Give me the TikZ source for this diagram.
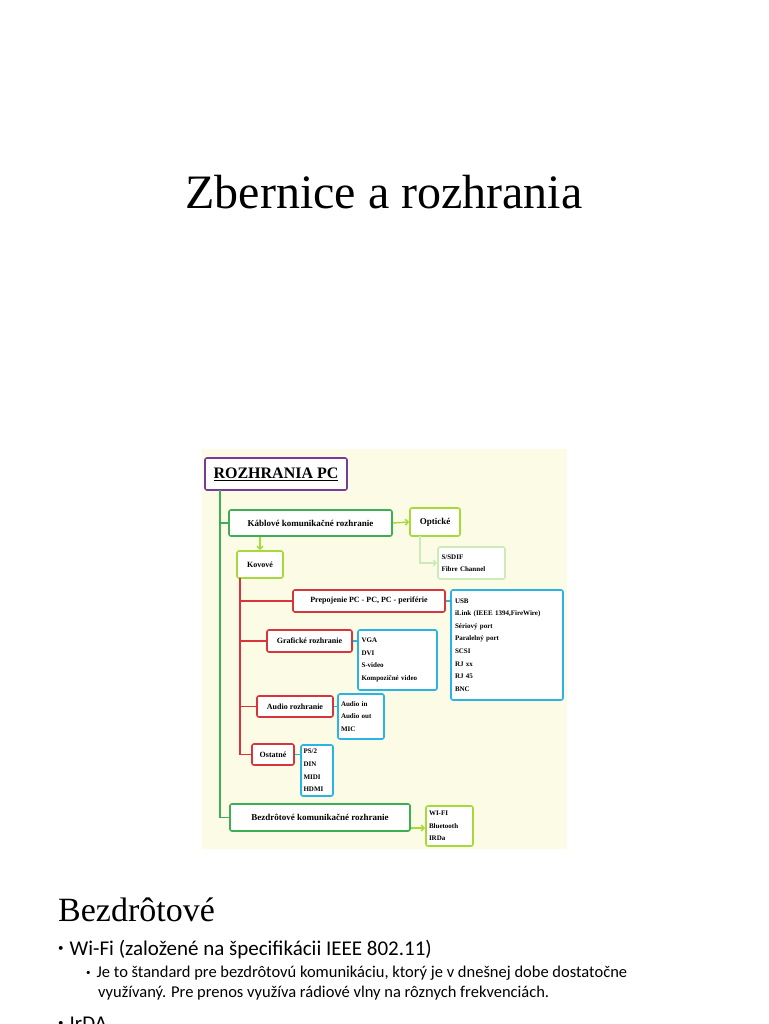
\documentclass[tikz,border=0pt]{standalone}
\usepackage{fontspec}
\setmainfont{Liberation Serif}
\newfontfamily\carlitofont{Carlito}
\usetikzlibrary{arrows.meta}
\definecolor{bg}{HTML}{FCFCE6}
\definecolor{purp}{HTML}{7A3A9A}
\definecolor{grn}{HTML}{3CAE54}
\definecolor{lgrn}{HTML}{A6DA3A}
\definecolor{fgrn}{HTML}{CDEBB8}
\definecolor{rd}{HTML}{D8343C}
\definecolor{bl}{HTML}{2AB4E4}
\tikzset{
 bx/.style={draw,line width=1.6pt,rounded corners=2pt,fill=white,inner sep=0pt,align=left},
 lst/.style={font=\bfseries\fontsize{7}{12.6}\selectfont},
 arr/.style={-{Straight Barb[length=3pt,width=6pt]},line width=1.4pt},
}
\begin{document}
\begin{tikzpicture}[x=1pt,y=-1pt]
\useasboundingbox (0,0) rectangle (768,1024);
\fill[white] (0,0) rectangle (768,1024);
\node (title) at (384,192) {\fontsize{48}{54}\selectfont Zbernice a rozhrania};
\fill[bg] (202,449) rectangle (567,849);
% boxes
\node[bx,draw=purp,minimum width=142pt,minimum height=32pt,font=\bfseries\fontsize{16}{18}\selectfont] (root) at (276,474) {\underline{ROZHRANIA PC}};
\node[bx,draw=grn,minimum width=163pt,minimum height=26pt,font=\bfseries\fontsize{9}{10}\selectfont] (kab) at (310.5,523) {Káblové komunikačné rozhranie};
\node[bx,draw=lgrn,minimum width=50pt,minimum height=28pt,font=\bfseries\fontsize{9}{10}\selectfont] (opt) at (435,522) {Optické};
\node[bx,draw=fgrn,minimum width=67pt,minimum height=32pt,text width=60pt,font=\bfseries\fontsize{7}{11.5}\selectfont] (sdif) at (471.5,563) {S/SDIF\\Fibre Channel};
\node[bx,draw=lgrn,minimum width=46pt,minimum height=27pt,font=\bfseries\fontsize{8}{9}\selectfont] (kov) at (260,564.5) {Kovové};
\node[bx,draw=rd,minimum width=152pt,minimum height=22pt,font=\bfseries\fontsize{8}{9}\selectfont] (prep) at (369,601) {Prepojenie PC - PC, PC - periférie};
\node[bx,lst,draw=bl,minimum width=112pt,minimum height=110pt,text width=104pt] (usb) at (507,645) {USB\\iLink (IEEE 1394,FireWire)\\Sériový port\\Paralelný port\\SCSI\\RJ xx\\RJ 45\\BNC};
\node[bx,draw=rd,minimum width=85pt,minimum height=22pt,font=\bfseries\fontsize{8}{9}\selectfont] (graf) at (309.5,641) {Grafické rozhranie};
\node[bx,lst,draw=bl,minimum width=79pt,minimum height=60pt,text width=72pt] (vga) at (397.5,660) {VGA\\DVI\\S-video\\Kompozičné video};
\node[bx,draw=rd,minimum width=76pt,minimum height=21pt,font=\bfseries\fontsize{8}{9}\selectfont] (aud) at (295,706.5) {Audio rozhranie};
\node[bx,lst,draw=bl,minimum width=46pt,minimum height=45pt,text width=40pt] (ain) at (361,716.5) {Audio in\\Audio out\\MIC};
\node[bx,draw=rd,minimum width=42pt,minimum height=21pt,font=\bfseries\fontsize{8}{9}\selectfont] (ost) at (273,754.5) {Ostatné};
\node[bx,lst,draw=bl,minimum width=32pt,minimum height=51pt,text width=27pt] (ps) at (317,770.5) {PS/2\\DIN\\MIDI\\HDMI};
\node[bx,draw=grn,minimum width=180pt,minimum height=27pt,font=\bfseries\fontsize{9}{10}\selectfont] (bez) at (320,817.5) {Bezdrôtové komunikačné rozhranie};
\node[bx,lst,draw=lgrn,minimum width=47pt,minimum height=40pt,text width=41pt] (wifi) at (449.5,826) {WI-FI\\Bluetooth\\IRDa};
% connectors
\coordinate (g0) at (220,490);
\draw[grn,line width=1.6pt] (g0) |- (bez.west);
\draw[grn,line width=1.6pt] (220,523) -- (kab.west);
\draw[arr,lgrn] (kab.east) -- (opt.west);
\draw[arr,lgrn] (kab.south -| kov.north) -- (kov.north);
\draw[arr,fgrn] (420,536) |- (sdif.west);
\draw[rd,line width=1.6pt] (240,578) |- (ost.west);
\draw[rd,line width=1.6pt] (240,601) -- (prep.west);
\draw[rd,line width=1.6pt] (240,641) -- (graf.west);
\draw[rd,line width=1.6pt] (240,706.5) -- (aud.west);
\draw[bl,line width=1.6pt] (prep.east) -- (usb.west |- prep.east);
\draw[bl,line width=1.6pt] (graf.east) -- (vga.west |- graf.east);
\draw[bl,line width=1.6pt] (aud.east) -- (ain.west |- aud.east);
\draw[bl,line width=1.6pt] (ost.east) -- (ps.west |- ost.east);
\draw[arr,lgrn] (bez.east |- 0,828) -- (wifi.west |- 0,828);
% bottom text
\node[anchor=base west,inner sep=0pt] (h2) at (58,921) {\fontsize{34}{40}\selectfont Bezdrôtové};
\node[anchor=base west,inner sep=0pt,font=\carlitofont\fontsize{21}{24}\selectfont] (b1) at (58,955) {\raisebox{0.15em}{\fontsize{11}{12}\selectfont•}\hspace{6pt}Wi-Fi (založené na špecifikácii IEEE 802.11)};
\node[anchor=north west,inner sep=0pt,align=left,font=\carlitofont\fontsize{16.5}{19.5}\selectfont] (b2) at (86,966) {\raisebox{0.15em}{\fontsize{9}{10}\selectfont•}\hspace{6pt}Je to štandard pre bezdrôtovú komunikáciu, ktorý je v dnešnej dobe dostatočne\\\hspace{12pt}využívaný. Pre prenos využíva rádiové vlny na rôznych frekvenciách.};
\node[anchor=base west,inner sep=0pt,font=\carlitofont\fontsize{21}{24}\selectfont] (b3) at (58,1030) {\raisebox{0.15em}{\fontsize{11}{12}\selectfont•}\hspace{6pt}IrDA};
\end{tikzpicture}
\end{document}
